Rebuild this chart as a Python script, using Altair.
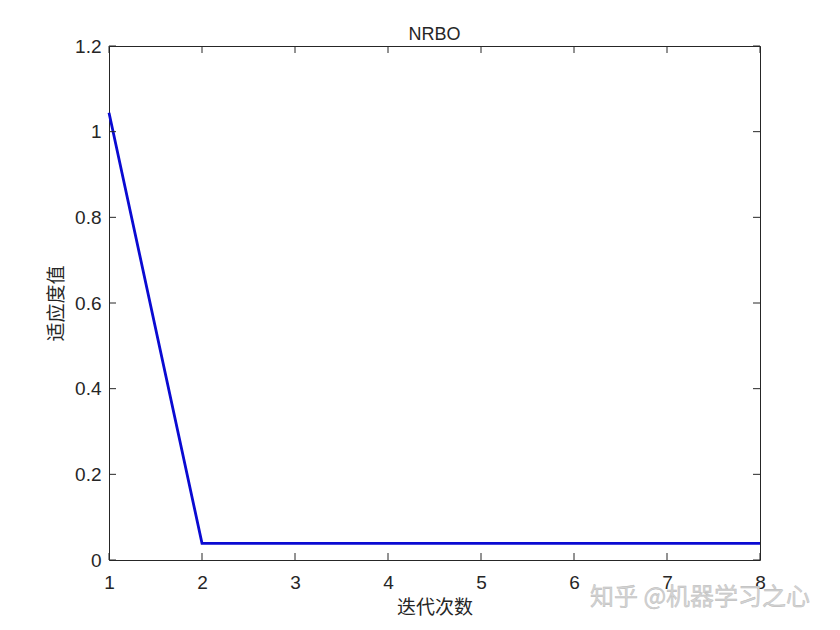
import altair as alt
import pandas as pd

iterations = [1, 2, 3, 4, 5, 6, 7, 8]
fitness = [1.044, 0.039, 0.039, 0.039, 0.039, 0.039, 0.039, 0.039]
x_ticks = [1, 2, 3, 4, 5, 6, 7, 8]
y_ticks = [0, 0.2, 0.4, 0.6, 0.8, 1.0, 1.2]
watermark = ["知乎 @机器学习之心"]

W, H = 651, 514
FONT = "Liberation Sans"
CJK = "Noto Sans CJK SC"
INK = "#262626"

df = pd.DataFrame({"iter": iterations, "fit": fitness})
xt = pd.DataFrame({"v": x_ticks})
yt = pd.DataFrame({"v": y_ticks})

xs = alt.Scale(domain=[1, 8], nice=False, zero=False)
ys = alt.Scale(domain=[0, 1.2], nice=False)

line = alt.Chart(df).mark_line(color="#0a0ad2", strokeWidth=2.8).encode(
    x=alt.X("iter:Q", scale=xs, title="迭代次数",
            axis=alt.Axis(values=x_ticks, format="d", tickSize=0, labelPadding=13,
                          labelFlush=False, grid=False, domain=False,
                          labelFont=FONT, labelFontSize=19, labelColor=INK,
                          titleFont=CJK, titleFontSize=19, titleFontWeight="normal",
                          titleColor=INK, titlePadding=6)),
    y=alt.Y("fit:Q", scale=ys, title="适应度值",
            axis=alt.Axis(values=y_ticks, format=".1~f", tickSize=0, labelPadding=8,
                          labelFlush=False, grid=False, domain=False,
                          labelFont=FONT, labelFontSize=19, labelColor=INK,
                          titleFont=CJK, titleFontSize=19, titleFontWeight="normal",
                          titleColor=INK, titlePadding=8)),
)

tick_len = 7
xb = alt.Chart(xt).mark_rule(color=INK, strokeWidth=1).encode(
    x=alt.X("v:Q", scale=xs), y=alt.value(H), y2=alt.value(H - tick_len))
xtop = alt.Chart(xt).mark_rule(color=INK, strokeWidth=1).encode(
    x=alt.X("v:Q", scale=xs), y=alt.value(0), y2=alt.value(tick_len))
yl = alt.Chart(yt).mark_rule(color=INK, strokeWidth=1).encode(
    y=alt.Y("v:Q", scale=ys), x=alt.value(0), x2=alt.value(tick_len))
yr = alt.Chart(yt).mark_rule(color=INK, strokeWidth=1).encode(
    y=alt.Y("v:Q", scale=ys), x=alt.value(W), x2=alt.value(W - tick_len))

wm = alt.Chart(pd.DataFrame({"t": watermark})).mark_text(
    font=CJK, fontSize=24, color="#d4d4d4", stroke="#b8b8b8", strokeWidth=0.4,
    align="left", baseline="middle").encode(
    text="t:N", x=alt.value(W - 170), y=alt.value(H + 38))

chart = alt.layer(line, xb, xtop, yl, yr, wm).properties(
    width=W, height=H,
    title=alt.TitleParams("NRBO", font=FONT, fontSize=18, fontWeight="normal",
                          color=INK, offset=-7),
    autosize=alt.AutoSizeParams(type="none"),
    padding={"left": 101, "top": 38, "right": 68, "bottom": 60},
).configure(background="white").configure_view(stroke=INK, strokeWidth=1)

chart.save("out.html", embed_options={"renderer": "svg", "actions": False})
